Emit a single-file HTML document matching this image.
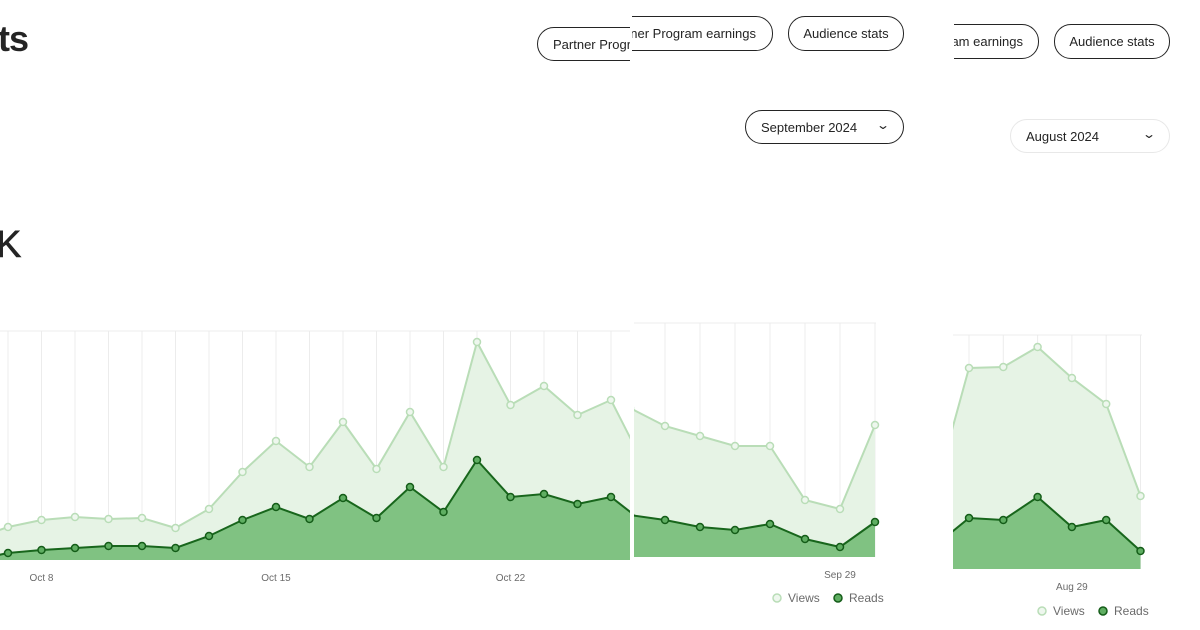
<!DOCTYPE html>
<html><head><meta charset="utf-8">
<style>
html,body{margin:0;padding:0;background:#fff;}
body{width:1200px;height:630px;position:relative;overflow:hidden;font-family:"Liberation Sans",sans-serif;color:#242424;}
.abs{position:absolute;}
.pill{position:absolute;box-sizing:border-box;border:1px solid #242424;border-radius:17px;font-size:13px;color:#242424;display:flex;align-items:center;justify-content:center;white-space:nowrap;overflow:hidden;background:#fff;}
.clip{position:absolute;overflow:hidden;}
svg text{font-family:"Liberation Sans",sans-serif;}
</style></head>
<body>
<div class="abs" style="left:-2px;top:18px;font-size:36px;font-weight:bold;letter-spacing:-1px;">ts</div>
<div class="abs" style="left:-4px;top:224px;font-size:38px;font-weight:500;-webkit-text-stroke:0.6px #242424;">K</div>
<div class="clip" style="left:0;top:0;width:630px;height:80px;">
 <div class="pill" style="left:537px;top:27px;width:130px;height:34px;justify-content:flex-start;padding-left:15px;">Partner Program earnings</div>
</div>
<div class="clip" style="left:632px;top:0;width:322px;height:80px;">
 <div class="pill" style="left:-40px;top:16px;width:181px;height:35px;justify-content:flex-end;padding-right:16px;">Partner Program earnings</div>
 <div class="pill" style="left:156px;top:16px;width:116px;height:35px;">Audience stats</div>
</div>
<div class="pill" style="left:745px;top:110px;width:159px;height:34px;justify-content:flex-start;padding-left:15px;">September 2024<span style="position:absolute;right:15px;top:7px;font-size:12px;transform:scaleX(1.4);">&#8964;</span></div>
<div class="clip" style="left:954px;top:0;width:246px;height:80px;">
 <div class="pill" style="left:-100px;top:24px;width:185px;height:35px;justify-content:flex-end;padding-right:15px;">Partner Program earnings</div>
 <div class="pill" style="left:100px;top:24px;width:116px;height:35px;">Audience stats</div>
</div>
<div class="pill" style="left:1010px;top:119px;width:160px;height:34px;border-color:#e8e8e8;justify-content:flex-start;padding-left:15px;">August 2024<span style="position:absolute;right:15px;top:7px;font-size:12px;transform:scaleX(1.4);">&#8964;</span></div>

<svg id="chart" class="abs" style="left:0;top:0" width="1200" height="630"></svg>

<script>
// Panel 1: October (day numbers), values in view counts
const octDays = [6,7,8,9,10,11,12,13,14,15,16,17,18,19,20,21,22,23,24,25,26,27];
const octViews = [84,132,160,172,164,168,128,204,352,476,372,552,364,592,372,872,620,696,580,640,376,376];
const octReads = [0,28,40,48,56,56,48,96,160,212,164,248,168,292,192,400,252,264,224,252,148,148];
const octTicks = ["Oct 8","Oct 15","Oct 22"];
const octTickDays = [8,15,22];
// Panel 2: September
const sepDays = [23,24,25,26,27,28,29,30];
const sepViews = [596,524,484,444,444,228,192,528];
const sepReads = [168,148,120,108,132,72,40,140];
const sepTicks = ["Sep 29"];
const sepTickDays = [29];
// Panel 3: August
const augDays = [25,26,27,28,29,30,31];
const augViews = [304,804,808,888,764,660,292];
const augReads = [92,204,196,288,168,196,72];
const augTicks = ["Aug 29"];
const augTickDays = [29];

const NS="http://www.w3.org/2000/svg";
const svg=document.getElementById('chart');
function mk(tag,attrs,parent){const e=document.createElementNS(NS,tag);for(const k in attrs)e.setAttribute(k,attrs[k]);(parent||svg).appendChild(e);return e;}

const panels=[
 {id:'oct',days:octDays,views:octViews,reads:octReads,ticks:octTicks,tickDays:octTickDays,
  clipL:0,clipR:630,x0:8,d0:7,step:33.5,top:331,base:560,gridFrom:7,gridTo:26,tickY:581,legend:null,padR:0},
 {id:'sep',days:sepDays,views:sepViews,reads:sepReads,ticks:sepTicks,tickDays:sepTickDays,
  clipL:634,clipR:876,x0:665,d0:24,step:35,top:323,base:557,gridFrom:24,gridTo:30,tickY:578,legend:[777,598],padR:6},
 {id:'aug',days:augDays,views:augViews,reads:augReads,ticks:augTicks,tickDays:augTickDays,
  clipL:953,clipR:1142,x0:969,d0:26,step:34.3,top:335,base:569,gridFrom:26,gridTo:31,tickY:590,legend:[1042,611],padR:6}
];

panels.forEach(p=>{
 const xs=d=>p.x0+(d-p.d0)*p.step;
 const ys=v=>p.base-v/4;
 const cp=mk('clipPath',{id:'cp-'+p.id});
 mk('rect',{x:p.clipL,y:p.top-5,width:p.clipR-p.clipL,height:p.base-p.top+5},cp);
 const cp2=mk('clipPath',{id:'cp2-'+p.id});
 mk('rect',{x:p.clipL,y:p.top-10,width:p.clipR-p.clipL+p.padR,height:p.base-p.top+20},cp2);
 const g=mk('g',{'clip-path':'url(#cp-'+p.id+')'});
 
 
 const gp=mk('g',{'clip-path':'url(#cp2-'+p.id+')'});
 
 
 const tl=mk('line',{x1:p.clipL,x2:p.clipR,y1:p.top,y2:p.top,stroke:'#ececec','stroke-width':1},g);
 
 
 for(let d=p.gridFrom;d<=p.gridTo;d++){
  const gl=mk('line',{x1:xs(d),x2:xs(d),y1:p.top,y2:p.base,stroke:'#ececec','stroke-width':1},g);
  
  
 }
 const pts=(arr)=>arr.map((v,i)=>xs(p.days[i])+','+ys(v)).join(' ');
 const first=xs(p.days[0]), last=xs(p.days[p.days.length-1]);
 const va=mk('polygon',{points:first+','+p.base+' '+pts(p.views)+' '+last+','+p.base,fill:'#e6f3e5'},g);
 
 
 const ra=mk('polygon',{points:first+','+p.base+' '+pts(p.reads)+' '+last+','+p.base,fill:'#80c282'},g);
 
 
 const vl=mk('polyline',{points:pts(p.views),fill:'none',stroke:'#b9ddb7','stroke-width':2},gp);
 
 
 const rl=mk('polyline',{points:pts(p.reads),fill:'none',stroke:'#18661c','stroke-width':2},gp);
 
 
 p.days.forEach((d,i)=>{
  const c1=mk('circle',{cx:xs(d),cy:ys(p.views[i]),r:3.5,fill:'#eef7ee',stroke:'#b9ddb7','stroke-width':1.5},gp);
  
  
  const c2=mk('circle',{cx:xs(d),cy:ys(p.reads[i]),r:3.5,fill:'#5fae62',stroke:'#145c18','stroke-width':1.5},gp);
  
  
 });
 p.ticks.forEach((t,i)=>{
  const tx=mk('text',{x:xs(p.tickDays[i]),y:p.tickY,'text-anchor':'middle','font-size':10,fill:'#6b6b6b'});
  tx.textContent=t;
  
  
 });
 if(p.legend){
  const [lx,ly]=p.legend;
  const l1=mk('circle',{cx:lx,cy:ly,r:4,fill:'#eef7ee',stroke:'#b9ddb7','stroke-width':1.5});
  
  
  const t1=mk('text',{x:lx+11,y:ly+4,'font-size':12,fill:'#6b6b6b'});t1.textContent='Views';
  
  
  const l2=mk('circle',{cx:lx+61,cy:ly,r:4,fill:'#5fae62',stroke:'#145c18','stroke-width':1.5});
  
  
  const t2=mk('text',{x:lx+72,y:ly+4,'font-size':12,fill:'#6b6b6b'});t2.textContent='Reads';
  
  
 }
});
</script>
</body></html>
